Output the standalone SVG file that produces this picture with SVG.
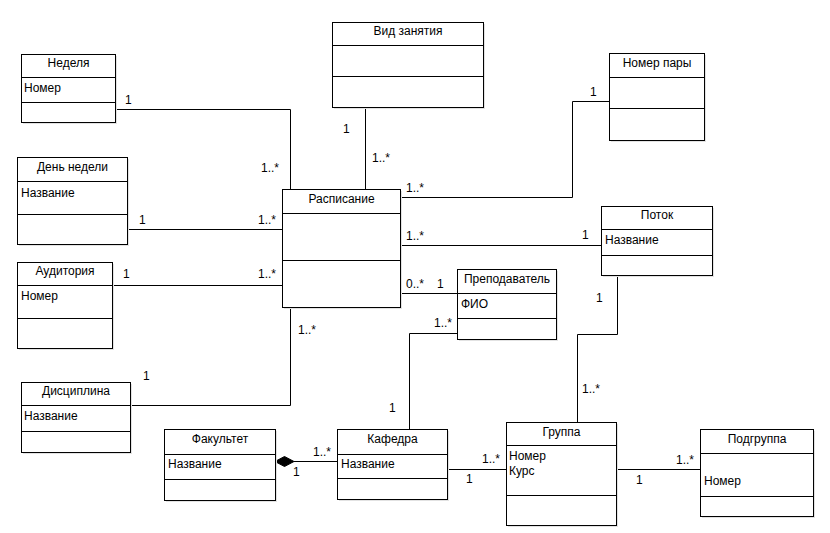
<svg xmlns="http://www.w3.org/2000/svg" width="830" height="533" viewBox="0 0 830 533">
<style>
text{font-family:"Liberation Sans",Arial,sans-serif;font-size:12px;font-weight:400;fill:#000}
.t{text-anchor:middle;font-weight:400}
.box{fill:#fff;stroke:#000;stroke-width:1}
.sh{fill:#e2e2e2}
.ln{stroke:#000;stroke-width:1;fill:none}
</style>
<rect width="830" height="533" fill="#fff"/>
<g id="connectors" class="ln">
<path d="M116,109.5 H290.5 V189"/>
<path d="M128,229.5 H282"/>
<path d="M113,285.5 H282"/>
<path d="M131,405.5 H290.5 V308"/>
<path d="M365.5,108 V189"/>
<path d="M401,197.5 H572.5 V101.5 H609"/>
<path d="M401,245.5 H601"/>
<path d="M401,293.5 H457"/>
<path d="M409.5,429 V333.5 H457"/>
<path d="M617.5,276 V334.5 H577.5 V422"/>
<path d="M448,469.5 H506"/>
<path d="M617,469.5 H700"/>
<path d="M294,461.5 H337"/>
<polygon points="275,461.5 284.5,456.5 294,461.5 284.5,466.5" fill="#000" stroke="#000"/>
</g>
<g id="labels">
<text x="125" y="104">1</text>
<text x="261" y="172">1..*</text>
<text x="139" y="224">1</text>
<text x="258" y="224">1..*</text>
<text x="123" y="278">1</text>
<text x="258" y="278">1..*</text>
<text x="143" y="380">1</text>
<text x="298" y="334">1..*</text>
<text x="343" y="133">1</text>
<text x="372" y="161.5">1..*</text>
<text x="406" y="192">1..*</text>
<text x="406" y="240">1..*</text>
<text x="406" y="288">0..*</text>
<text x="437" y="288">1</text>
<text x="590" y="96">1</text>
<text x="582" y="239">1</text>
<text x="434" y="327">1..*</text>
<text x="389" y="411.5">1</text>
<text x="596" y="301.5">1</text>
<text x="582" y="393">1..*</text>
<text x="482" y="463">1..*</text>
<text x="466" y="483">1</text>
<text x="676" y="464">1..*</text>
<text x="636" y="484">1</text>
<text x="313" y="456">1..*</text>
<text x="293" y="475.5">1</text>
</g>
<g id="nedelya">
<rect class="sh" x="23" y="56" width="94" height="68"/>
<rect class="box" x="21.5" y="54.5" width="94" height="68"/>
<path class="ln" d="M21.5,77.5 H115.5 M21.5,102.5 H115.5"/>
<text class="t" x="68.5" y="67">Неделя</text>
<text x="24" y="92">Номер</text>
</g>
<g id="den-nedeli">
<rect class="sh" x="19" y="159" width="110" height="87"/>
<rect class="box" x="17.5" y="157.5" width="110" height="87"/>
<path class="ln" d="M17.5,181.5 H127.5 M17.5,214.5 H127.5"/>
<text class="t" x="72.5" y="171">День недели</text>
<text x="21" y="197">Название</text>
</g>
<g id="auditoriya">
<rect class="sh" x="19" y="264" width="95" height="86"/>
<rect class="box" x="17.5" y="262.5" width="95" height="86"/>
<path class="ln" d="M17.5,285.5 H112.5 M17.5,318.5 H112.5"/>
<text class="t" x="65" y="275">Аудитория</text>
<text x="21" y="300">Номер</text>
</g>
<g id="disciplina">
<rect class="sh" x="23" y="384" width="109" height="70"/>
<rect class="box" x="21.5" y="382.5" width="109" height="70"/>
<path class="ln" d="M21.5,405.5 H130.5 M21.5,431.5 H130.5"/>
<text class="t" x="76" y="395">Дисциплина</text>
<text x="24" y="420">Название</text>
</g>
<g id="vid-zanyatiya">
<rect class="sh" x="334" y="24" width="151" height="85"/>
<rect class="box" x="332.5" y="22.5" width="151" height="85"/>
<path class="ln" d="M332.5,45.5 H483.5 M332.5,76.5 H483.5"/>
<text class="t" x="408" y="35">Вид занятия</text>
</g>
<g id="raspisanie">
<rect class="sh" x="284" y="191" width="118" height="118"/>
<rect class="box" x="282.5" y="189.5" width="118" height="118"/>
<path class="ln" d="M282.5,213.5 H400.5 M282.5,260.5 H400.5"/>
<text class="t" x="341.5" y="203">Расписание</text>
</g>
<g id="nomer-pary">
<rect class="sh" x="611" y="55" width="95" height="87"/>
<rect class="box" x="609.5" y="53.5" width="95" height="87"/>
<path class="ln" d="M609.5,77.5 H704.5 M609.5,108.5 H704.5"/>
<text class="t" x="657" y="67">Номер пары</text>
</g>
<g id="potok">
<rect class="sh" x="603" y="208" width="111" height="69"/>
<rect class="box" x="601.5" y="206.5" width="111" height="69"/>
<path class="ln" d="M601.5,229.5 H712.5 M601.5,255.5 H712.5"/>
<text class="t" x="657" y="219">Поток</text>
<text x="605" y="244">Название</text>
</g>
<g id="prepodavatel">
<rect class="sh" x="459" y="271" width="99" height="70"/>
<rect class="box" x="457.5" y="269.5" width="99" height="70"/>
<path class="ln" d="M457.5,293.5 H556.5 M457.5,318.5 H556.5"/>
<text class="t" x="507" y="283">Преподаватель</text>
<text x="461" y="308">ФИО</text>
</g>
<g id="fakultet">
<rect class="sh" x="166" y="431" width="111" height="71"/>
<rect class="box" x="164.5" y="429.5" width="111" height="71"/>
<path class="ln" d="M164.5,454.5 H275.5 M164.5,479.5 H275.5"/>
<text class="t" x="220" y="443">Факультет</text>
<text x="168" y="468">Название</text>
</g>
<g id="kafedra">
<rect class="sh" x="339" y="431" width="110" height="70"/>
<rect class="box" x="337.5" y="429.5" width="110" height="70"/>
<path class="ln" d="M337.5,454.5 H447.5 M337.5,478.5 H447.5"/>
<text class="t" x="392.5" y="443">Кафедра</text>
<text x="341" y="468">Название</text>
</g>
<g id="gruppa">
<rect class="sh" x="508" y="424" width="110" height="103"/>
<rect class="box" x="506.5" y="422.5" width="110" height="103"/>
<path class="ln" d="M506.5,445.5 H616.5 M506.5,495.5 H616.5"/>
<text class="t" x="561.5" y="436">Группа</text>
<text x="509" y="460">Номер</text>
<text x="509" y="475">Курс</text>
</g>
<g id="podgruppa">
<rect class="sh" x="702" y="431" width="113" height="87"/>
<rect class="box" x="700.5" y="429.5" width="113" height="87"/>
<path class="ln" d="M700.5,453.5 H813.5 M700.5,496.5 H813.5"/>
<text class="t" x="757" y="443">Подгруппа</text>
<text x="704" y="485">Номер</text>
</g>
</svg>
